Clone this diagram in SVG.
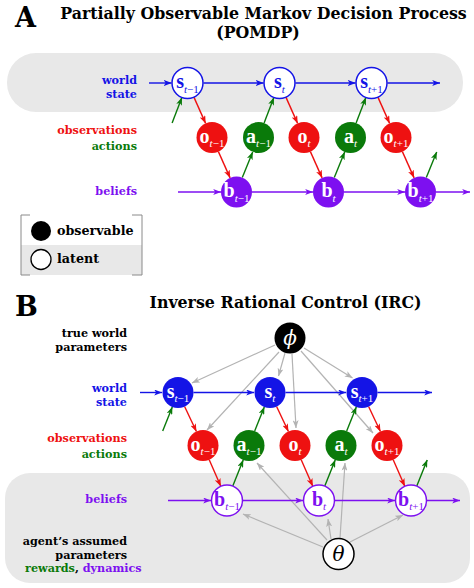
<svg xmlns="http://www.w3.org/2000/svg" width="474" height="588" viewBox="0 0 474 588">
<style>
.big{font-family:"DejaVu Serif",serif;font-weight:bold;font-size:27px;fill:#000}
.title{font-family:"DejaVu Serif",serif;font-weight:bold;font-size:15.8px;fill:#000;text-anchor:middle}
.lbl{font-family:"DejaVu Serif",serif;font-weight:bold;font-size:11.2px;text-anchor:end}
.leg{font-family:"DejaVu Serif",serif;font-weight:bold;font-size:12.7px;fill:#000}
.nl{font-family:"Liberation Serif",serif;font-weight:bold;font-size:20px;text-anchor:middle}
.sb{font-size:11px;font-weight:normal}
.it{font-style:italic}
.band{fill:#e8e8e8}
.cb{stroke:#1414e6;stroke-width:1.4;fill:none}
.cr{stroke:#ee1111;stroke-width:1.4;fill:none}
.cg{stroke:#0a7a0a;stroke-width:1.4;fill:none}
.cp{stroke:#7d10f0;stroke-width:1.4;fill:none}
.cx{stroke:#b3b3b3;stroke-width:1.2;fill:none}
.blue{fill:#1414e6}.red{fill:#ee1111}.green{fill:#0a7a0a}.purple{fill:#7d10f0}.black{fill:#000}.white{fill:#fff}
</style>
<defs>
<marker id="mb" viewBox="0 0 8 6" refX="7.8" refY="3" markerWidth="8" markerHeight="6" markerUnits="userSpaceOnUse" orient="auto"><path d="M0,0 L8,3 L0,6 L2,3 z" fill="#1414e6"/></marker>
<marker id="mr" viewBox="0 0 8 6" refX="7.8" refY="3" markerWidth="8" markerHeight="6" markerUnits="userSpaceOnUse" orient="auto"><path d="M0,0 L8,3 L0,6 L2,3 z" fill="#ee1111"/></marker>
<marker id="mg" viewBox="0 0 8 6" refX="7.8" refY="3" markerWidth="8" markerHeight="6" markerUnits="userSpaceOnUse" orient="auto"><path d="M0,0 L8,3 L0,6 L2,3 z" fill="#0a7a0a"/></marker>
<marker id="mp" viewBox="0 0 8 6" refX="7.8" refY="3" markerWidth="8" markerHeight="6" markerUnits="userSpaceOnUse" orient="auto"><path d="M0,0 L8,3 L0,6 L2,3 z" fill="#7d10f0"/></marker>
<marker id="mx" viewBox="0 0 8 6" refX="7.8" refY="3" markerWidth="8" markerHeight="6" markerUnits="userSpaceOnUse" orient="auto"><path d="M0,0 L8,3 L0,6 L2,3 z" fill="#b3b3b3"/></marker>
</defs>

<!-- backgrounds -->
<rect class="band" x="7" y="53" width="456" height="59" rx="29"/>
<rect class="band" x="5" y="473" width="465" height="110" rx="25"/>

<!-- titles -->
<text class="big" x="15" y="27">A</text>
<text class="title" x="263.5" y="18.5">Partially Observable Markov Decision Process</text>
<text class="title" x="258" y="38">(POMDP)</text>
<text class="big" x="15" y="316">B</text>
<text class="title" x="285.5" y="308">Inverse Rational Control (IRC)</text>

<!-- row labels A -->
<text class="lbl blue" x="137" y="84">world</text>
<text class="lbl blue" x="137" y="97.5">state</text>
<text class="lbl red" x="137" y="134">observations</text>
<text class="lbl green" x="137" y="150">actions</text>
<text class="lbl purple" x="137" y="195">beliefs</text>

<!-- legend -->
<g id="legend">
<rect class="band" x="21" y="245" width="121" height="30"/>
<path d="M30,215 H21 V275 H30 M132,215 H142 V275 H132" stroke="#8a8a8a" stroke-width="1" fill="none"/>
<circle cx="41" cy="231" r="10" fill="#000"/>
<text class="leg" x="57" y="235">observable</text>
<circle cx="41" cy="259.5" r="10" fill="#fff" stroke="#000" stroke-width="1.3"/>
<text class="leg" x="57" y="263">latent</text>
</g>

<!-- row labels B -->
<text class="lbl black" x="127" y="337">true world</text>
<text class="lbl black" x="127" y="350.5">parameters</text>
<text class="lbl blue" x="127" y="392">world</text>
<text class="lbl blue" x="127" y="405.5">state</text>
<text class="lbl red" x="127" y="442">observations</text>
<text class="lbl green" x="127" y="458">actions</text>
<text class="lbl purple" x="127" y="503">beliefs</text>
<text class="lbl black" x="127" y="545">agent’s assumed</text>
<text class="lbl black" x="127" y="558.5">parameters</text>
<text class="lbl" x="25" y="572" style="text-anchor:start"><tspan class="green">rewards</tspan><tspan class="black">, </tspan><tspan class="purple">dynamics</tspan></text>

<!-- connectors -->
<g id="connectors">
<!-- A horizontal -->
<line class="cb" x1="149" y1="83" x2="171.5" y2="83" marker-end="url(#mb)"/>
<line class="cb" x1="203.5" y1="83" x2="263.5" y2="83" marker-end="url(#mb)"/>
<line class="cb" x1="295.5" y1="83" x2="355.5" y2="83" marker-end="url(#mb)"/>
<line class="cb" x1="387.5" y1="83" x2="440" y2="83" marker-end="url(#mb)"/>
<line class="cp" x1="178" y1="192" x2="221" y2="192" marker-end="url(#mp)"/>
<line class="cp" x1="252" y1="192" x2="313" y2="192" marker-end="url(#mp)"/>
<line class="cp" x1="344" y1="192" x2="405" y2="192" marker-end="url(#mp)"/>
<line class="cp" x1="436" y1="192" x2="470" y2="192" marker-end="url(#mp)"/>
<!-- A s->o -->
<line class="cr" x1="193.9" y1="97.1" x2="205.6" y2="123.4" marker-end="url(#mr)"/>
<line class="cr" x1="285.9" y1="97.1" x2="297.6" y2="123.4" marker-end="url(#mr)"/>
<line class="cr" x1="377.9" y1="97.1" x2="389.6" y2="123.4" marker-end="url(#mr)"/>
<!-- A o->b -->
<line class="cr" x1="218.4" y1="151.6" x2="230.1" y2="177.9" marker-end="url(#mr)"/>
<line class="cr" x1="310.4" y1="151.6" x2="322.1" y2="177.9" marker-end="url(#mr)"/>
<line class="cr" x1="402.4" y1="151.6" x2="414.1" y2="177.9" marker-end="url(#mr)"/>
<!-- A b->a -->
<line class="cg" x1="242.3" y1="177.6" x2="252.7" y2="151.9" marker-end="url(#mg)"/>
<line class="cg" x1="334.3" y1="177.6" x2="344.7" y2="151.9" marker-end="url(#mg)"/>
<line class="cg" x1="426.3" y1="177.6" x2="436.7" y2="151.9" marker-end="url(#mg)"/>
<!-- A a->s -->
<line class="cg" x1="172.1" y1="123" x2="181.9" y2="97.5" marker-end="url(#mg)"/>
<line class="cg" x1="264.1" y1="123" x2="273.9" y2="97.5" marker-end="url(#mg)"/>
<line class="cg" x1="356.1" y1="123" x2="365.9" y2="97.5" marker-end="url(#mg)"/>

<!-- B gray from phi -->
<line class="cx" x1="275" y1="345" x2="192" y2="383" marker-end="url(#mx)"/>
<line class="cx" x1="285" y1="353" x2="278.5" y2="376" marker-end="url(#mx)"/>
<line class="cx" x1="304" y1="348" x2="352.5" y2="378" marker-end="url(#mx)"/>
<line class="cx" x1="279" y1="352" x2="207" y2="430" marker-end="url(#mx)"/>
<line class="cx" x1="292" y1="354" x2="296" y2="428" marker-end="url(#mx)"/>
<line class="cx" x1="301" y1="351" x2="373" y2="433" marker-end="url(#mx)"/>
<!-- B gray from theta -->
<line class="cx" x1="323" y1="547" x2="243" y2="514" marker-end="url(#mx)"/>
<line class="cx" x1="327" y1="540" x2="257" y2="463" marker-end="url(#mx)"/>
<line class="cx" x1="331" y1="539" x2="328" y2="519" marker-end="url(#mx)"/>
<line class="cx" x1="340" y1="538" x2="345" y2="463" marker-end="url(#mx)"/>
<line class="cx" x1="350" y1="542" x2="403" y2="515" marker-end="url(#mx)"/>
<!-- B horizontal -->
<line class="cb" x1="140" y1="392.5" x2="162" y2="392.5" marker-end="url(#mb)"/>
<line class="cb" x1="193.5" y1="392.5" x2="254" y2="392.5" marker-end="url(#mb)"/>
<line class="cb" x1="285.5" y1="392.5" x2="346" y2="392.5" marker-end="url(#mb)"/>
<line class="cb" x1="377.5" y1="392.5" x2="432" y2="392.5" marker-end="url(#mb)"/>
<line class="cp" x1="168" y1="500.5" x2="211" y2="500.5" marker-end="url(#mp)"/>
<line class="cp" x1="243" y1="500.5" x2="303" y2="500.5" marker-end="url(#mp)"/>
<line class="cp" x1="335" y1="500.5" x2="395" y2="500.5" marker-end="url(#mp)"/>
<line class="cp" x1="427" y1="500.5" x2="460" y2="500.5" marker-end="url(#mp)"/>
<!-- B s->o -->
<line class="cr" x1="184.6" y1="406.5" x2="196.4" y2="431.5" marker-end="url(#mr)"/>
<line class="cr" x1="276.6" y1="406.5" x2="288.4" y2="431.5" marker-end="url(#mr)"/>
<line class="cr" x1="368.6" y1="406.5" x2="380.4" y2="431.5" marker-end="url(#mr)"/>
<!-- B o->b -->
<line class="cr" x1="209.2" y1="459.7" x2="220.8" y2="486.3" marker-end="url(#mr)"/>
<line class="cr" x1="301.2" y1="459.7" x2="312.8" y2="486.3" marker-end="url(#mr)"/>
<line class="cr" x1="393.2" y1="459.7" x2="404.8" y2="486.3" marker-end="url(#mr)"/>
<!-- B b->a -->
<line class="cg" x1="232.8" y1="486.1" x2="243.2" y2="459.9" marker-end="url(#mg)"/>
<line class="cg" x1="324.8" y1="486.1" x2="335.2" y2="459.9" marker-end="url(#mg)"/>
<line class="cg" x1="416.8" y1="486.1" x2="427.2" y2="459.9" marker-end="url(#mg)"/>
<!-- B a->s -->
<line class="cg" x1="162.7" y1="431.1" x2="172.3" y2="406.9" marker-end="url(#mg)"/>
<line class="cg" x1="254.7" y1="431.1" x2="264.3" y2="406.9" marker-end="url(#mg)"/>
<line class="cg" x1="346.7" y1="431.1" x2="356.3" y2="406.9" marker-end="url(#mg)"/>
</g>

<!-- A nodes -->
<g id="A_s1"><circle cx="187.5" cy="83" r="15.5" fill="#fff" stroke="#1414e6" stroke-width="1.5"/><text class="nl blue" x="187.5" y="88">s<tspan class="sb" dy="4.5"><tspan class="it">t</tspan>−1</tspan></text></g>
<g id="A_s2"><circle cx="279.5" cy="83" r="15.5" fill="#fff" stroke="#1414e6" stroke-width="1.5"/><text class="nl blue" x="279.5" y="88">s<tspan class="sb it" dy="4.5">t</tspan></text></g>
<g id="A_s3"><circle cx="371.5" cy="83" r="15.5" fill="#fff" stroke="#1414e6" stroke-width="1.5"/><text class="nl blue" x="371.5" y="88">s<tspan class="sb" dy="4.5"><tspan class="it">t</tspan>+1</tspan></text></g>
<g id="A_o1"><circle class="red" cx="212" cy="137.5" r="15.5"/><text class="nl white" x="212" y="142.5">o<tspan class="sb" dy="4.5"><tspan class="it">t</tspan>−1</tspan></text></g>
<g id="A_a1"><circle class="green" cx="258.5" cy="137.5" r="15.5"/><text class="nl white" x="258.5" y="142.5">a<tspan class="sb" dy="4.5"><tspan class="it">t</tspan>−1</tspan></text></g>
<g id="A_o2"><circle class="red" cx="304" cy="137.5" r="15.5"/><text class="nl white" x="304" y="142.5">o<tspan class="sb it" dy="4.5">t</tspan></text></g>
<g id="A_a2"><circle class="green" cx="350.5" cy="137.5" r="15.5"/><text class="nl white" x="350.5" y="142.5">a<tspan class="sb it" dy="4.5">t</tspan></text></g>
<g id="A_o3"><circle class="red" cx="396" cy="137.5" r="15.5"/><text class="nl white" x="396" y="142.5">o<tspan class="sb" dy="4.5"><tspan class="it">t</tspan>+1</tspan></text></g>
<g id="A_b1"><circle class="purple" cx="236.5" cy="192" r="15.5"/><text class="nl white" x="236.5" y="197">b<tspan class="sb" dy="4.5"><tspan class="it">t</tspan>−1</tspan></text></g>
<g id="A_b2"><circle class="purple" cx="328.5" cy="192" r="15.5"/><text class="nl white" x="328.5" y="197">b<tspan class="sb it" dy="4.5">t</tspan></text></g>
<g id="A_b3"><circle class="purple" cx="420.5" cy="192" r="15.5"/><text class="nl white" x="420.5" y="197">b<tspan class="sb" dy="4.5"><tspan class="it">t</tspan>+1</tspan></text></g>

<!-- B nodes -->
<g id="B_phi"><circle cx="290" cy="338" r="15.5" fill="#000"/><text x="290" y="345" style="font-family:'DejaVu Serif',serif;font-style:italic;font-size:20px;fill:#fff;text-anchor:middle">ϕ</text></g>
<g id="B_s1"><circle class="blue" cx="178" cy="392.5" r="15.5"/><text class="nl white" x="178" y="397.5">s<tspan class="sb" dy="4.5"><tspan class="it">t</tspan>−1</tspan></text></g>
<g id="B_s2"><circle class="blue" cx="270" cy="392.5" r="15.5"/><text class="nl white" x="270" y="397.5">s<tspan class="sb it" dy="4.5">t</tspan></text></g>
<g id="B_s3"><circle class="blue" cx="362" cy="392.5" r="15.5"/><text class="nl white" x="362" y="397.5">s<tspan class="sb" dy="4.5"><tspan class="it">t</tspan>+1</tspan></text></g>
<g id="B_o1"><circle class="red" cx="203" cy="445.5" r="15.5"/><text class="nl white" x="203" y="450.5">o<tspan class="sb" dy="4.5"><tspan class="it">t</tspan>−1</tspan></text></g>
<g id="B_a1"><circle class="green" cx="249" cy="445.5" r="15.5"/><text class="nl white" x="249" y="450.5">a<tspan class="sb" dy="4.5"><tspan class="it">t</tspan>−1</tspan></text></g>
<g id="B_o2"><circle class="red" cx="295" cy="445.5" r="15.5"/><text class="nl white" x="295" y="450.5">o<tspan class="sb it" dy="4.5">t</tspan></text></g>
<g id="B_a2"><circle class="green" cx="341" cy="445.5" r="15.5"/><text class="nl white" x="341" y="450.5">a<tspan class="sb it" dy="4.5">t</tspan></text></g>
<g id="B_o3"><circle class="red" cx="387" cy="445.5" r="15.5"/><text class="nl white" x="387" y="450.5">o<tspan class="sb" dy="4.5"><tspan class="it">t</tspan>+1</tspan></text></g>
<g id="B_b1"><circle cx="227" cy="500.5" r="15.5" fill="#fff" stroke="#7d10f0" stroke-width="1.5"/><text class="nl purple" x="227" y="505.5">b<tspan class="sb" dy="4.5"><tspan class="it">t</tspan>−1</tspan></text></g>
<g id="B_b2"><circle cx="319" cy="500.5" r="15.5" fill="#fff" stroke="#7d10f0" stroke-width="1.5"/><text class="nl purple" x="319" y="505.5">b<tspan class="sb it" dy="4.5">t</tspan></text></g>
<g id="B_b3"><circle cx="411" cy="500.5" r="15.5" fill="#fff" stroke="#7d10f0" stroke-width="1.5"/><text class="nl purple" x="411" y="505.5">b<tspan class="sb" dy="4.5"><tspan class="it">t</tspan>+1</tspan></text></g>
<g id="B_theta"><circle cx="338.5" cy="554" r="15.5" fill="#fff" stroke="#000" stroke-width="1.5"/><text x="338.5" y="561" style="font-family:'DejaVu Serif',serif;font-style:italic;font-size:20px;fill:#000;text-anchor:middle">θ</text></g>
</svg>
